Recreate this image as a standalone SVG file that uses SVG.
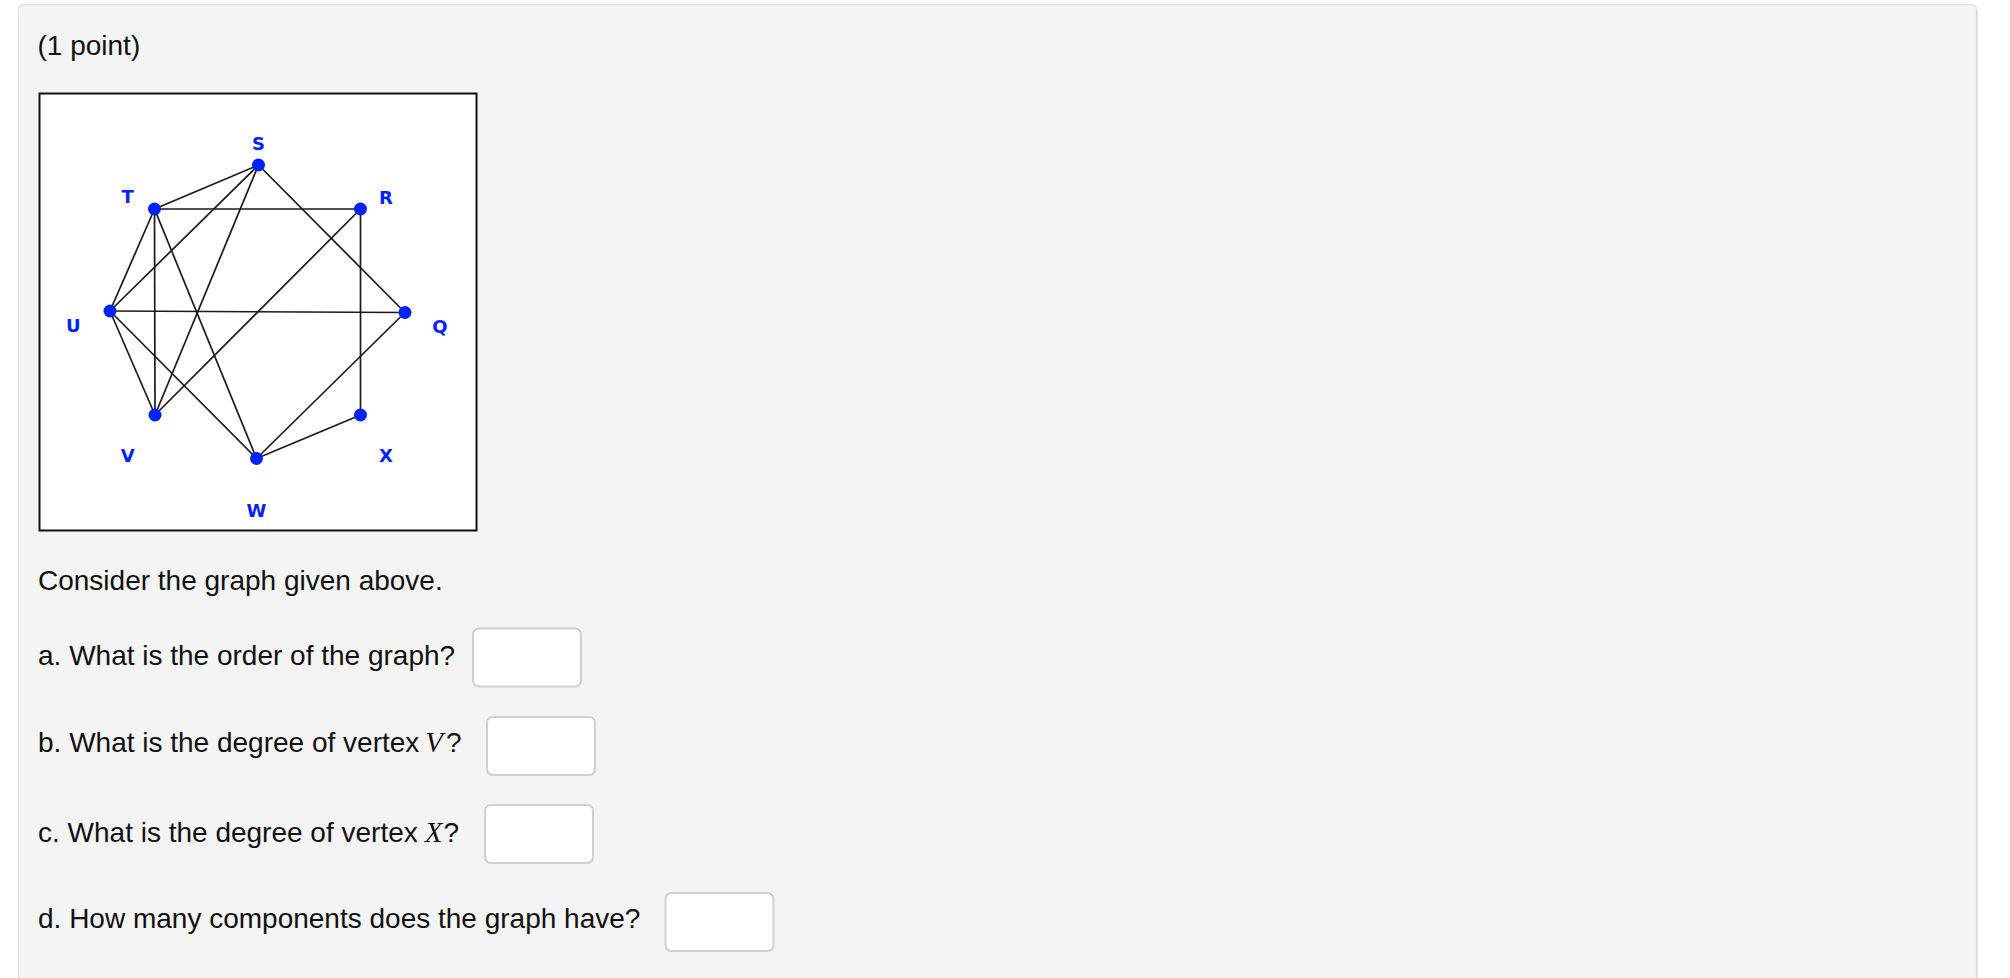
<svg xmlns="http://www.w3.org/2000/svg" width="2010" height="978" viewBox="0 0 2010 978">
<style>
.txt{font-family:"Liberation Sans",Arial,sans-serif;font-size:28px;fill:#111}
.math{font-family:"Liberation Serif","Times New Roman",serif;font-style:italic;font-size:29px;fill:#111}
.lbl{font-family:"DejaVu Sans",sans-serif;font-weight:bold;font-size:18px;fill:#0022ff;text-anchor:middle}
.dot{fill:#0022ff}
.edge{stroke:#1a1a1a;stroke-width:1.7;fill:none}
.inp{fill:#fff;stroke:#cfcfcf;stroke-width:2}
</style>
<rect x="0" y="0" width="2010" height="978" fill="#fff"/>
<rect x="18.5" y="4.5" width="1958" height="990" rx="5" fill="#f4f4f4" stroke="#e2e2e2" stroke-width="1.5"/>
<line x1="1977" y1="10" x2="1977" y2="978" stroke="#dadada" stroke-width="1.5"/>
<text class="txt" x="37.5" y="55">(1 point)</text>
<rect id="graph-frame" x="39.5" y="93.5" width="437" height="437" fill="#fff" stroke="#111" stroke-width="2"/>
<g id="connectors">
<line class="edge" x1="258.5" y1="165" x2="154.5" y2="209"/>
<line class="edge" x1="258.5" y1="165" x2="110" y2="311"/>
<line class="edge" x1="258.5" y1="165" x2="155" y2="415"/>
<line class="edge" x1="258.5" y1="165" x2="405" y2="312.5"/>
<line class="edge" x1="154.5" y1="209" x2="360.5" y2="209"/>
<line class="edge" x1="154.5" y1="209" x2="110" y2="311"/>
<line class="edge" x1="154.5" y1="209" x2="155" y2="415"/>
<line class="edge" x1="154.5" y1="209" x2="256.5" y2="458.5"/>
<line class="edge" x1="360.5" y1="209" x2="360.5" y2="415"/>
<line class="edge" x1="360.5" y1="209" x2="155" y2="415"/>
<line class="edge" x1="110" y1="311" x2="405" y2="312.5"/>
<line class="edge" x1="110" y1="311" x2="155" y2="415"/>
<line class="edge" x1="110" y1="311" x2="256.5" y2="458.5"/>
<line class="edge" x1="405" y1="312.5" x2="256.5" y2="458.5"/>
<line class="edge" x1="360.5" y1="415" x2="256.5" y2="458.5"/>
</g>
<g id="node-S"><circle class="dot" cx="258.5" cy="165" r="6.5"/><text class="lbl" x="258.5" y="150">S</text></g>
<g id="node-T"><circle class="dot" cx="154.5" cy="209" r="6.5"/><text class="lbl" x="127.7" y="203">T</text></g>
<g id="node-R"><circle class="dot" cx="360.5" cy="209" r="6.5"/><text class="lbl" x="386" y="204">R</text></g>
<g id="node-U"><circle class="dot" cx="110" cy="311" r="6.5"/><text class="lbl" x="73.3" y="331.5">U</text></g>
<g id="node-Q"><circle class="dot" cx="405" cy="312.5" r="6.5"/><text class="lbl" x="440" y="333">Q</text></g>
<g id="node-V"><circle class="dot" cx="155" cy="415" r="6.5"/><text class="lbl" x="127.7" y="461.5">V</text></g>
<g id="node-X"><circle class="dot" cx="360.5" cy="415" r="6.5"/><text class="lbl" x="386" y="461.5">X</text></g>
<g id="node-W"><circle class="dot" cx="256.5" cy="458.5" r="6.5"/><text class="lbl" x="256.5" y="516.5">W</text></g>
<text class="txt" x="38" y="590">Consider the graph given above.</text>
<text class="txt" x="38" y="665">a. What is the order of the graph?</text>
<rect class="inp" x="473" y="628.5" width="108" height="58" rx="6"/>
<text class="txt" x="38" y="752">b. What is the degree of vertex<tspan class="math" dx="6">V</tspan><tspan dx="3">?</tspan></text>
<rect class="inp" x="487" y="717" width="108" height="58" rx="6"/>
<text class="txt" x="38" y="841.5">c. What is the degree of vertex<tspan class="math" dx="7">X</tspan><tspan dx="1">?</tspan></text>
<rect class="inp" x="485" y="805" width="108" height="58" rx="6"/>
<text class="txt" x="38" y="928">d. How many components does the graph have?</text>
<rect class="inp" x="665.5" y="893" width="108" height="58" rx="6"/>
</svg>
